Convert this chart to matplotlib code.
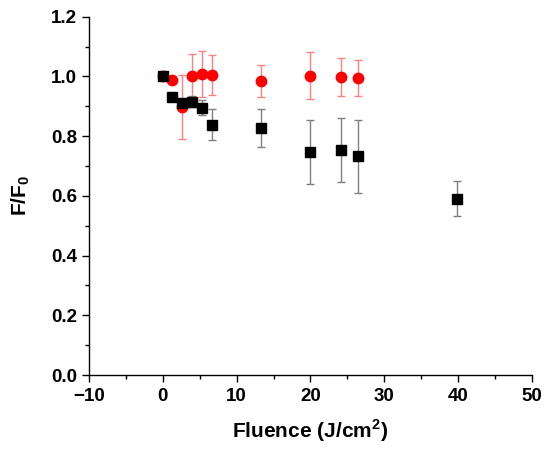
import matplotlib
matplotlib.use("Agg")
import matplotlib.pyplot as plt
from matplotlib.ticker import MultipleLocator, FormatStrFormatter

# fluence (J/cm2) and normalised fluorescence F/F0
fluence = [0.0, 1.3, 2.6, 3.9, 5.25, 6.6, 13.3, 20.0, 24.1, 26.5, 39.8]

red_y = [1.0, 0.987, 0.897, 1.0, 1.008, 1.005, 0.985, 1.003, 0.998, 0.995]
red_err = [0.0, 0.01, 0.108, 0.076, 0.077, 0.068, 0.055, 0.078, 0.064, 0.06]

black_y = [1.0, 0.932, 0.911, 0.915, 0.896, 0.839, 0.827, 0.747, 0.754, 0.733, 0.591]
black_err = [0.005, 0.01, 0.01, 0.018, 0.025, 0.052, 0.063, 0.107, 0.108, 0.122, 0.06]

plt.rcParams['font.family'] = ['Liberation Sans', 'DejaVu Sans']
plt.rcParams['font.weight'] = 'bold'
plt.rcParams['mathtext.fontset'] = 'custom'
plt.rcParams['mathtext.rm'] = 'Liberation Sans:bold'
plt.rcParams['mathtext.bf'] = 'Liberation Sans:bold'

fig = plt.figure(figsize=(5.5, 4.54), dpi=100)
ax = fig.add_axes([0.162, 0.174, 0.805, 0.789])

ax.errorbar(fluence[:len(red_y)], red_y, yerr=red_err, fmt='o', color='red',
            ms=7.5, mec='red', ecolor='#ff8080', elinewidth=1, capsize=2.8,
            capthick=1, zorder=2)
ax.errorbar(fluence, black_y, yerr=black_err, fmt='s', color='black',
            ms=7, ecolor='#808080', elinewidth=1, capsize=2.8,
            capthick=1, zorder=3)

ax.set_xlim(-10, 50)
ax.set_ylim(0, 1.2)
ax.xaxis.set_major_locator(MultipleLocator(10))
ax.xaxis.set_minor_locator(MultipleLocator(5))
ax.yaxis.set_major_locator(MultipleLocator(0.2))
ax.yaxis.set_minor_locator(MultipleLocator(0.1))
ax.yaxis.set_major_formatter(FormatStrFormatter('%.1f'))

for side in ['top', 'right']:
    ax.spines[side].set_visible(False)
for side in ['left', 'bottom']:
    ax.spines[side].set_linewidth(1.0)

ax.tick_params(which='major', direction='out', length=5, width=1, labelsize=13.5)
ax.tick_params(which='minor', direction='out', length=3, width=1)
ax.tick_params(axis='x', pad=4)
for lbl in ax.get_xticklabels() + ax.get_yticklabels():
    lbl.set_fontweight('bold')

ax.set_xlabel(r'Fluence (J/cm$^{2}$)', fontsize=15, fontweight='bold', labelpad=9)
ax.set_ylabel(r'F/F$_{0}$', fontsize=15, fontweight='bold', labelpad=14)

fig.savefig('out.png', dpi=100)
